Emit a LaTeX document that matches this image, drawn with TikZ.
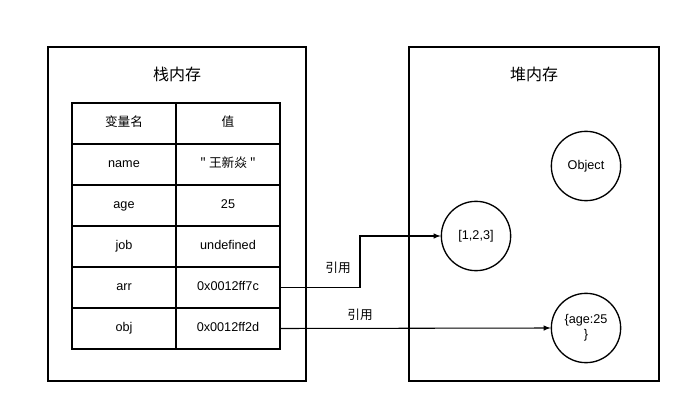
\documentclass[tikz,border=0pt]{standalone}
\usepackage{fontspec}
\setmainfont{Liberation Sans}
\newfontfamily\cjk{Noto Sans CJK SC}
\usetikzlibrary{arrows,positioning}
\tikzset{
        cell/.style = {draw, rectangle, line width=1pt,
            minimum height=30.75pt, minimum width=78pt, outer sep=0pt,
            text height=7pt, text depth=2pt,
            font=\fontsize{9.5}{11}\selectfont, inner sep=0pt},
        obj/.style = {draw, circle, line width=1pt, minimum size=52pt,
            align=center, font=\fontsize{9.5}{11}\selectfont, inner sep=1pt},
        arrow/.style={draw, -latex, line width=0.8pt},
    }
\begin{document}
\begin{tikzpicture}[x=0.75pt,y=0.75pt,yscale=-1,xscale=1]
    \useasboundingbox (0,0) rectangle (691,413);
    
    % stack and heap
    \draw [line width=1pt] (48,47) rectangle (306,381);
    \draw [line width=1pt] (409,47) rectangle (659,381);
    \node (stk) at (177,74) {\cjk\fontsize{12}{14}\selectfont 栈内存};
    \node (hp) at (534,74) {\cjk\fontsize{12}{14}\selectfont 堆内存};
    
    % table
    \node [cell] (k0) at (124,123.5) {\cjk 变量名};
    \node [cell] (v0) at (228,123.5) {\cjk 值};
    \node [cell, below=0pt of k0] (k1) {name};
    \node [cell, below=0pt of v0] (v1) {\cjk " 王新焱 "};
    \node [cell, below=0pt of k1] (k2) {age};
    \node [cell, below=0pt of v1] (v2) {25};
    \node [cell, below=0pt of k2] (k3) {job};
    \node [cell, below=0pt of v2] (v3) {undefined};
    \node [cell, below=0pt of k3] (k4) {arr};
    \node [cell, below=0pt of v3] (v4) {0x0012ff7c};
    \node [cell, below=0pt of k4] (k5) {obj};
    \node [cell, below=0pt of v4] (v5) {0x0012ff2d};
    
    % heap objects
    \node [obj] (object) at (586,166) {Object};
    \node [obj] (array) at (476,236) {[1,2,3]};
    \node [obj] (agobj) at (586,328) {\{age:25\\\}};
    
    % references
    \draw [arrow] (v4.east) -| (360,236) -- (array.west);
    \draw [arrow] (v5.east) -- (agobj.west);
    \node (r1) at (338,268) {\cjk\fontsize{9.5}{11}\selectfont 引用};
    \node (r2) at (360,315) {\cjk\fontsize{9.5}{11}\selectfont 引用};
    
\end{tikzpicture}
\end{document}
